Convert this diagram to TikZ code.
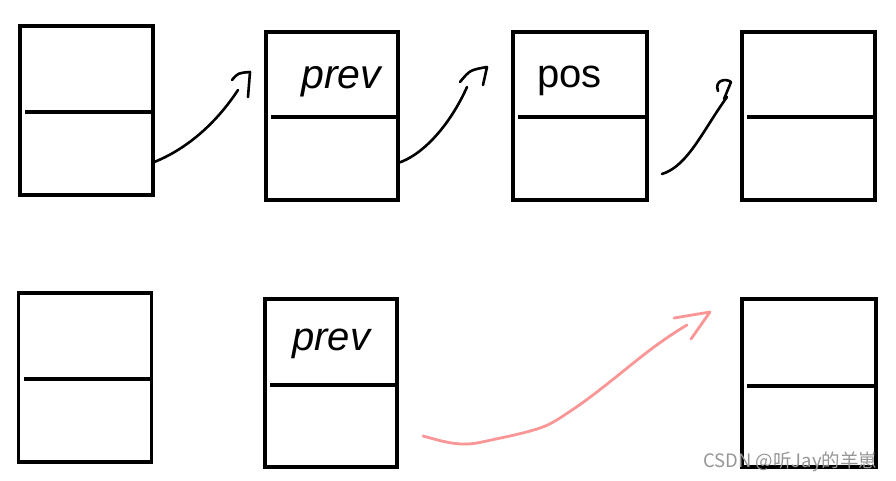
\documentclass[tikz,border=0pt]{standalone}
\usepackage{fontspec}
\setmainfont{Liberation Sans}
\newfontfamily\cjk{Noto Sans CJK SC}
\definecolor{pinkline}{RGB}{250,150,150}
\definecolor{wmgray}{RGB}{150,150,150}
\begin{document}
\begin{tikzpicture}[x=1pt,y=-1pt,
  cell/.style={draw=black,line width=3.2pt,minimum width=133pt,minimum height=169pt,inner sep=0pt,outer sep=0pt},
  divider/.style={line width=3.2pt},
  hand/.style={line width=2.6pt,line cap=round,line join=round},
  pinkhand/.style={draw=pinkline,line width=2.8pt,line cap=round,line join=round},
  label/.style={inner sep=0pt,anchor=base west,font=\fontsize{40}{40}\selectfont},
  wm/.style={inner sep=0pt,anchor=base west,text=wmgray,font=\cjk\fontsize{18.5}{18.5}\selectfont}]
\useasboundingbox (0,0) rectangle (896,480);
% boxes, top row
\node[cell] (b1) at (86.5,110.5) {};
\node[cell,minimum width=132pt,minimum height=168pt] (b2) at (332,116) {};
\node[cell,minimum width=134pt,minimum height=168pt] (b3) at (580,116) {};
\node[cell,minimum width=133pt,minimum height=168pt] (b4) at (808.5,116) {};
% boxes, bottom row
\node[cell] (b5) at (85,377.5) {};
\node[cell,minimum width=132pt,minimum height=168pt] (b6) at (331,383) {};
\node[cell,minimum width=134pt,minimum height=168pt] (b7) at (809,383) {};
% dividers
\foreach \b/\s in {b1/-1.5,b2/-1,b3/-1,b4/-1,b5/-1.5,b6/-2,b7/-3}{
  \draw[divider] ([xshift=5pt,yshift=\s pt]\b.west) -- ([yshift=\s pt]\b.east);
}
% labels
\node[label,font=\itshape\fontsize{41}{41}\selectfont] (t1) at (301,88) {prev};
\node[label] (t2) at (537,87) {pos};
\node[label,font=\itshape\fontsize{40}{40}\selectfont] (t3) at (292,350) {prev};
% arrow 1
\coordinate (s1) at ([yshift=-52pt]b1.east);
\coordinate (e1) at (238,90);
\coordinate (h1a) at (232,80);
\coordinate (h1t) at (250,72);
\coordinate (h1b) at (248,97);
\draw[hand] (s1) .. controls (185,150) and (215,125) .. (e1);
\draw[hand] (h1a) .. controls (238,73) .. (h1t) -- (h1b);
% arrow 2
\coordinate (s2) at ([yshift=-47pt]b2.east);
\coordinate (e2) at (467,87);
\coordinate (h2a) at (460,82);
\coordinate (h2t) at (487,67);
\coordinate (h2b) at (483,85);
\draw[hand] (s2) .. controls (423,155) and (450,125) .. (e2);
\draw[hand] (h2a) .. controls (470,70) .. (h2t) -- (h2b);
% arrow 3
\coordinate (s3) at (662,174);
\coordinate (e3) at (727,97);
\coordinate (h3a) at (718,91);
\coordinate (h3t) at (731,82);
\coordinate (h3b) at (724,99);
\draw[hand] (s3) .. controls (688,166) and (703,130) .. (e3);
\draw[hand] (h3a) .. controls (714,80) and (726,78) .. (h3t) -- (h3b);
% pink arrow
\coordinate (ps) at (423,436);
\coordinate (pe) at (687,325);
\coordinate (pha) at (674,318);
\coordinate (pht) at (710,312);
\coordinate (phb) at (691,339);
\draw[pinkhand] (ps) .. controls (445,442) and (460,447) .. (482,442)
  .. controls (500,438) and (522,434) .. (540,428)
  .. controls (552,424) and (560,418) .. (575,408)
  .. controls (600,391) and (630,365) .. (650,350)
  .. controls (662,341) and (675,332) .. (pe);
\draw[pinkhand] (pha) -- (pht) -- (phb);
% watermark
\node[wm] (w) at (703,467) {CSDN @听Jay的羊崽};
\end{tikzpicture}
\end{document}
